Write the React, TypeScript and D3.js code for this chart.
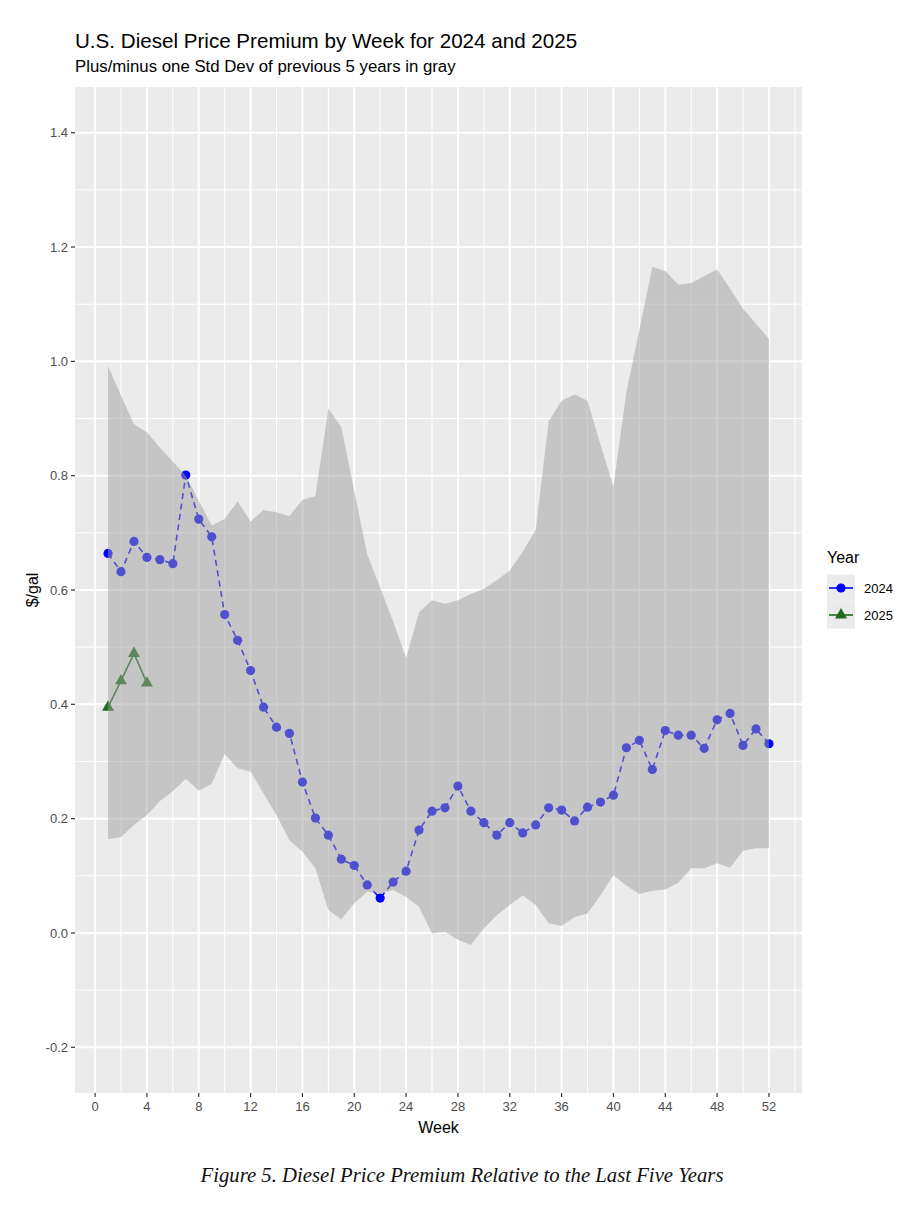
import React, { useRef, useEffect } from "react";
import * as d3 from "d3";

// week index 1..52
const weeks: number[] = d3.range(1, 53);

// 2024 premium ($/gal)
const premium2024: number[] = [
  0.664, 0.632, 0.685, 0.657, 0.653, 0.646, 0.801, 0.724, 0.693, 0.557,
  0.512, 0.459, 0.395, 0.36, 0.349, 0.264, 0.201, 0.171, 0.129, 0.118,
  0.084, 0.061, 0.089, 0.108, 0.18, 0.213, 0.219, 0.257, 0.213, 0.193,
  0.171, 0.193, 0.175, 0.189, 0.219, 0.215, 0.196, 0.22, 0.229, 0.241,
  0.324, 0.337, 0.286, 0.354, 0.346, 0.346, 0.323, 0.373, 0.384, 0.328,
  0.357, 0.331,
];

// 2025 premium, first four weeks
const premium2025: number[] = [0.395, 0.441, 0.489, 0.437];

// +/- one std dev band of the previous 5 years
const bandUpper: number[] = [
  0.992, 0.94, 0.89, 0.876, 0.849, 0.825, 0.8, 0.756, 0.713, 0.724,
  0.755, 0.72, 0.74, 0.736, 0.729, 0.758, 0.764, 0.917, 0.885, 0.773,
  0.662, 0.604, 0.545, 0.481, 0.561, 0.582, 0.576, 0.582, 0.593, 0.602,
  0.617, 0.634, 0.667, 0.705, 0.895, 0.931, 0.942, 0.931, 0.854, 0.781,
  0.947, 1.055, 1.165, 1.158, 1.134, 1.137, 1.149, 1.161, 1.127, 1.092,
  1.066, 1.039,
];
const bandLower: number[] = [
  0.164, 0.168, 0.189, 0.206, 0.231, 0.248, 0.27, 0.249, 0.261, 0.313,
  0.288, 0.282, 0.244, 0.206, 0.162, 0.142, 0.113, 0.04, 0.024, 0.052,
  0.072, 0.069, 0.075, 0.063, 0.046, -0.001, 0.002, -0.012, -0.021, 0.008,
  0.031, 0.049, 0.066, 0.049, 0.017, 0.012, 0.028, 0.034, 0.066, 0.101,
  0.083, 0.068, 0.074, 0.076, 0.088, 0.113, 0.113, 0.122, 0.114, 0.144,
  0.148, 0.148,
];

const xTicks: number[] = [0, 4, 8, 12, 16, 20, 24, 28, 32, 36, 40, 44, 48, 52];
const xMinor: number[] = [2, 6, 10, 14, 18, 22, 26, 30, 34, 38, 42, 46, 50, 54];
const yTicks: number[] = [-0.2, 0, 0.2, 0.4, 0.6, 0.8, 1.0, 1.2, 1.4];
const yMinor: number[] = [-0.1, 0.1, 0.3, 0.5, 0.7, 0.9, 1.1, 1.3];

const seriesNames = ["2024", "2025"];
const BLUE = "#0000ff";
const GREEN = "#1d6b1d";

const App: React.FC = () => {
  const svgRef = useRef<SVGSVGElement | null>(null);

  useEffect(() => {
    const width = 912;
    const height = 1216;
    const panel = { left: 75, right: 802, top: 87, bottom: 1093 };
    const font = "'Liberation Sans', Arial, Helvetica, sans-serif";

    const svg = d3.select(svgRef.current).attr("width", width).attr("height", height);
    svg.selectAll("*").remove();

    // ggplot-style 5% expansion
    const xExp = (52 - 1) * 0.05;
    const xScale = d3
      .scaleLinear()
      .domain([1 - xExp, 52 + xExp])
      .range([panel.left, panel.right]);
    const yExp = (1.4 - -0.2) * 0.05;
    const yScale = d3
      .scaleLinear()
      .domain([-0.2 - yExp, 1.4 + yExp])
      .range([panel.bottom, panel.top]);

    svg.append("rect").attr("width", width).attr("height", height).attr("fill", "#ffffff");

    // panel
    svg
      .append("rect")
      .attr("x", panel.left)
      .attr("y", panel.top)
      .attr("width", panel.right - panel.left)
      .attr("height", panel.bottom - panel.top)
      .attr("fill", "#ebebeb");

    const grid = svg.append("g");
    grid
      .selectAll(".ymin")
      .data(yMinor)
      .enter()
      .append("line")
      .attr("x1", panel.left)
      .attr("x2", panel.right)
      .attr("y1", (d) => yScale(d))
      .attr("y2", (d) => yScale(d))
      .attr("stroke", "#ffffff")
      .attr("stroke-width", 1);
    grid
      .selectAll(".xmin")
      .data(xMinor)
      .enter()
      .append("line")
      .attr("y1", panel.top)
      .attr("y2", panel.bottom)
      .attr("x1", (d) => xScale(d))
      .attr("x2", (d) => xScale(d))
      .attr("stroke", "#ffffff")
      .attr("stroke-width", 1);
    grid
      .selectAll(".ymaj")
      .data(yTicks)
      .enter()
      .append("line")
      .attr("x1", panel.left)
      .attr("x2", panel.right)
      .attr("y1", (d) => yScale(d))
      .attr("y2", (d) => yScale(d))
      .attr("stroke", "#ffffff")
      .attr("stroke-width", 2);
    grid
      .selectAll(".xmaj")
      .data(xTicks)
      .enter()
      .append("line")
      .attr("y1", panel.top)
      .attr("y2", panel.bottom)
      .attr("x1", (d) => xScale(d))
      .attr("x2", (d) => xScale(d))
      .attr("stroke", "#ffffff")
      .attr("stroke-width", 2);

    const plot = svg.append("g");

    // 2024 dashed line + points
    const line = d3
      .line<number>()
      .x((_, i) => xScale(weeks[i]))
      .y((d) => yScale(d));

    plot
      .append("path")
      .datum(premium2024)
      .attr("fill", "none")
      .attr("stroke", BLUE)
      .attr("stroke-width", 1.6)
      .attr("stroke-dasharray", "6,4.5")
      .attr("d", line);

    plot
      .append("path")
      .datum(premium2025)
      .attr("fill", "none")
      .attr("stroke", GREEN)
      .attr("stroke-width", 1.6)
      .attr("d", line);

    plot
      .selectAll(".p24")
      .data(premium2024)
      .enter()
      .append("circle")
      .attr("cx", (_, i) => xScale(weeks[i]))
      .attr("cy", (d) => yScale(d))
      .attr("r", 4.6)
      .attr("fill", BLUE);

    const tri = d3.symbol().type(d3.symbolTriangle).size(62);
    plot
      .selectAll(".p25")
      .data(premium2025)
      .enter()
      .append("path")
      .attr("transform", (d, i) => `translate(${xScale(weeks[i])},${yScale(d)})`)
      .attr("d", tri as any)
      .attr("fill", GREEN);

    // ribbon drawn on top of the series
    const area = d3
      .area<number>()
      .x((_, i) => xScale(weeks[i]))
      .y0((_, i) => yScale(bandLower[i]))
      .y1((d) => yScale(d));

    plot
      .append("path")
      .datum(bandUpper)
      .attr("fill", "#a0a0a0")
      .attr("fill-opacity", 0.5)
      .attr("d", area);

    // Y axis
    const yAxis = svg.append("g");
    yTicks.forEach((t) => {
      yAxis
        .append("line")
        .attr("x1", panel.left - 4)
        .attr("x2", panel.left)
        .attr("y1", yScale(t))
        .attr("y2", yScale(t))
        .attr("stroke", "#333333")
        .attr("stroke-width", 1.2);
      yAxis
        .append("text")
        .attr("x", panel.left - 7)
        .attr("y", yScale(t))
        .attr("dy", "0.35em")
        .attr("text-anchor", "end")
        .style("font-family", font)
        .style("font-size", "13px")
        .style("fill", "#4d4d4d")
        .text(t.toFixed(1));
    });

    // X axis
    const xAxis = svg.append("g");
    xTicks.forEach((t) => {
      xAxis
        .append("line")
        .attr("x1", xScale(t))
        .attr("x2", xScale(t))
        .attr("y1", panel.bottom)
        .attr("y2", panel.bottom + 4)
        .attr("stroke", "#333333")
        .attr("stroke-width", 1.2);
      xAxis
        .append("text")
        .attr("x", xScale(t))
        .attr("y", panel.bottom + 18)
        .attr("text-anchor", "middle")
        .style("font-family", font)
        .style("font-size", "13px")
        .style("fill", "#4d4d4d")
        .text(String(t));
    });

    // Axis titles
    svg
      .append("text")
      .attr("x", (panel.left + panel.right) / 2)
      .attr("y", 1133)
      .attr("text-anchor", "middle")
      .style("font-family", font)
      .style("font-size", "16px")
      .style("fill", "#000")
      .text("Week");

    svg
      .append("text")
      .attr("transform", `translate(38,${(panel.top + panel.bottom) / 2}) rotate(-90)`)
      .attr("text-anchor", "middle")
      .style("font-family", font)
      .style("font-size", "16px")
      .style("fill", "#000")
      .text("$/gal");

    // Title + subtitle
    svg
      .append("text")
      .attr("x", panel.left)
      .attr("y", 48)
      .style("font-family", font)
      .style("font-size", "20.6px")
      .style("fill", "#000")
      .text("U.S. Diesel Price Premium by Week for 2024 and 2025");

    svg
      .append("text")
      .attr("x", panel.left)
      .attr("y", 72)
      .style("font-family", font)
      .style("font-size", "16.8px")
      .style("fill", "#000")
      .text("Plus/minus one Std Dev of previous 5 years in gray");

    // Legend
    const legend = svg.append("g").attr("transform", "translate(827,0)");
    legend
      .append("text")
      .attr("x", 0)
      .attr("y", 563)
      .style("font-family", font)
      .style("font-size", "16px")
      .style("fill", "#000")
      .text("Year");

    seriesNames.forEach((name, i) => {
      const cy = 588 + i * 27;
      legend
        .append("rect")
        .attr("x", 0)
        .attr("y", cy - 13.5)
        .attr("width", 28)
        .attr("height", 27)
        .attr("fill", "#ebebeb");
      const color = i === 0 ? BLUE : GREEN;
      legend
        .append("line")
        .attr("x1", 2)
        .attr("x2", 26)
        .attr("y1", cy)
        .attr("y2", cy)
        .attr("stroke", color)
        .attr("stroke-width", 1.6);
      if (i === 0) {
        legend.append("circle").attr("cx", 14).attr("cy", cy).attr("r", 4.6).attr("fill", color);
      } else {
        legend
          .append("path")
          .attr("transform", `translate(14,${cy})`)
          .attr("d", tri as any)
          .attr("fill", color);
      }
      legend
        .append("text")
        .attr("x", 37)
        .attr("y", cy)
        .attr("dy", "0.35em")
        .style("font-family", font)
        .style("font-size", "13px")
        .style("fill", "#000")
        .text(name);
    });

    // Figure caption
    svg
      .append("text")
      .attr("x", 462)
      .attr("y", 1182)
      .attr("text-anchor", "middle")
      .attr("textLength", 523)
      .attr("lengthAdjust", "spacingAndGlyphs")
      .style("font-family", "'Liberation Serif', 'DejaVu Serif', serif")
      .style("font-style", "italic")
      .style("font-size", "21px")
      .style("fill", "#111")
      .text("Figure 5. Diesel Price Premium Relative to the Last Five Years");
  }, []);

  return (
    <div style={{ position: "absolute", left: 0, top: 0 }}>
      <svg ref={svgRef} style={{ display: "block" }}></svg>
    </div>
  );
};

export default App;
